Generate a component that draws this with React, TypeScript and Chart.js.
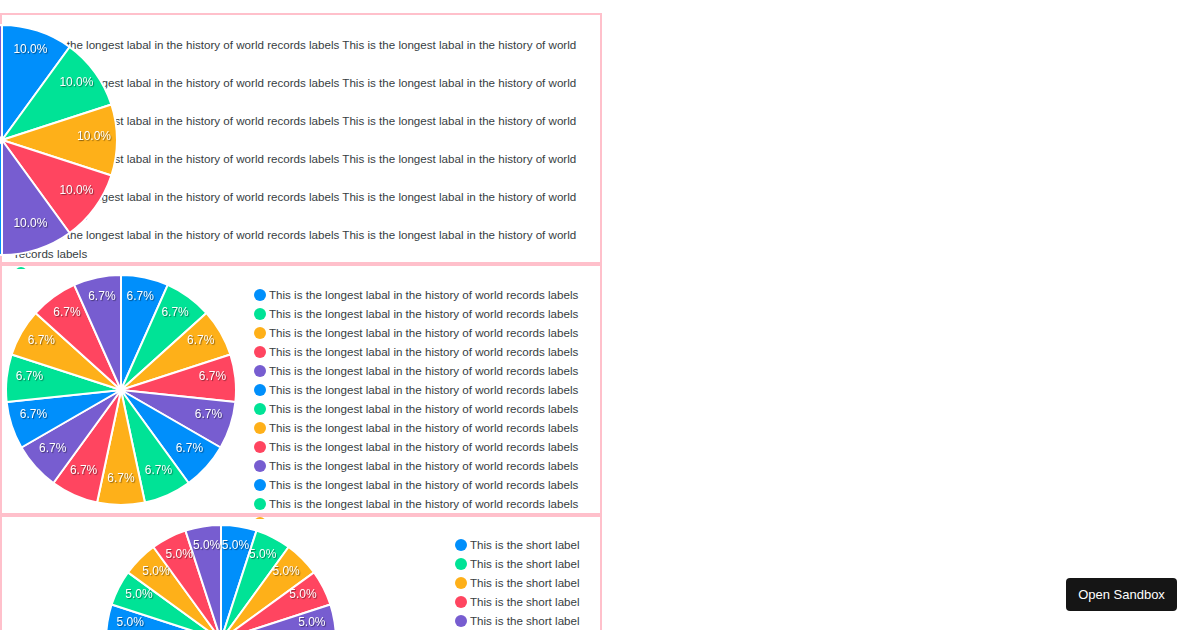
import { useEffect, useRef } from 'react';
import { Chart, PieController, ArcElement } from 'chart.js';

Chart.register(PieController, ArcElement);

const LONG = 'This is the longest labal in the history of world records labels';
const LONGER = 'This is the longest labal in the history of world records labels This is the longest labal in the history of world records labels';
const SHORT = 'This is the short label';

const LABELS_1 = [LONGER, LONGER, LONGER, LONGER, LONGER, LONGER, LONGER, LONGER, LONGER, LONGER];
const VALUES_1 = [10, 10, 10, 10, 10, 10, 10, 10, 10, 10];

const LABELS_2 = [LONG, LONG, LONG, LONG, LONG, LONG, LONG, LONG, LONG, LONG, LONG, LONG, LONG, LONG, LONG];
const VALUES_2 = [10, 10, 10, 10, 10, 10, 10, 10, 10, 10, 10, 10, 10, 10, 10];

const LABELS_3 = [SHORT, SHORT, SHORT, SHORT, SHORT, SHORT, SHORT, SHORT, SHORT, SHORT,
  SHORT, SHORT, SHORT, SHORT, SHORT, SHORT, SHORT, SHORT, SHORT, SHORT];
const VALUES_3 = [10, 10, 10, 10, 10, 10, 10, 10, 10, 10, 10, 10, 10, 10, 10, 10, 10, 10, 10, 10];

const PALETTE = ['#008FFB', '#00E396', '#FEB019', '#FF4560', '#775DD0'];
const FONT = '"Liberation Sans", Arial, Helvetica, sans-serif';
const SIZE = 232;

const percentLabels = {
  id: 'percentLabels',
  afterDatasetsDraw(chart: Chart) {
    const { ctx } = chart;
    const values = chart.data.datasets[0].data as number[];
    const total = values.reduce((a, b) => a + b, 0);
    const meta = chart.getDatasetMeta(0);
    ctx.save();
    ctx.font = `12px ${FONT}`;
    ctx.fillStyle = '#fff';
    ctx.textAlign = 'center';
    ctx.textBaseline = 'alphabetic';
    ctx.shadowColor = 'rgba(0,0,0,0.45)';
    ctx.shadowOffsetX = 1;
    ctx.shadowOffsetY = 1;
    ctx.shadowBlur = 1;
    meta.data.forEach((arc: any, i) => {
      const { x, y, startAngle, endAngle, outerRadius } = arc.getProps(['x', 'y', 'startAngle', 'endAngle', 'outerRadius'], true);
      const mid = (startAngle + endAngle) / 2;
      const r = outerRadius / 1.25;
      const txt = ((values[i] / total) * 100).toFixed(1) + '%';
      ctx.fillText(txt, x + Math.cos(mid) * r, y + Math.sin(mid) * r);
    });
    ctx.restore();
  },
};

function PieCanvas({ labels, values, left, top }: { labels: string[]; values: number[]; left: number; top: number }) {
  const ref = useRef<HTMLCanvasElement>(null);

  useEffect(() => {
    if (!ref.current) return;
    const chart = new Chart(ref.current, {
      type: 'pie',
      data: {
        labels,
        datasets: [{
          data: values,
          backgroundColor: values.map((_, i) => PALETTE[i % PALETTE.length]),
          borderColor: '#fff',
          borderWidth: 2,
          hoverBorderWidth: 2,
          hoverOffset: 0,
        }],
      },
      options: {
        responsive: false,
        animation: false,
        radius: 115,
        layout: { padding: 0 },
        events: [],
        plugins: { legend: { display: false }, tooltip: { enabled: false } },
      },
      plugins: [percentLabels],
    });
    return () => { chart.destroy(); };
  }, [labels, values]);

  return (
    <canvas
      ref={ref}
      width={SIZE}
      height={SIZE}
      style={{ position: 'absolute', left, top, width: SIZE, height: SIZE, zIndex: 3 }}
    />
  );
}

function Legend({ labels, left, top, width, height }: { labels: string[]; left: number; top: number; width: number; height: number }) {
  return (
    <div
      style={{
        position: 'absolute', left, top, width, height, overflow: 'hidden',
        fontSize: 11.6, lineHeight: '19px', color: '#373d3f', zIndex: 2,
      }}
    >
      {labels.map((l, i) => (
        <div key={i}>
          <span
            style={{
              display: 'inline-block', width: 12, height: 12, borderRadius: 6,
              background: PALETTE[i % PALETTE.length], marginRight: 3, verticalAlign: '-2px',
            }}
          />
          {l}
        </div>
      ))}
    </div>
  );
}

const boxStyle = (top: number, height: number): React.CSSProperties => ({
  position: 'absolute', left: 0, top, width: 602, height, boxSizing: 'border-box',
  border: '2px solid pink', zIndex: 1,
});

export default function App() {
  return (
    <div
      style={{
        position: 'fixed', left: 0, top: 0, width: 1200, height: 630, overflow: 'hidden',
        background: '#fff', fontFamily: FONT,
      }}
    >
      <div style={boxStyle(13, 251)} />
      <div style={boxStyle(264, 251)} />
      <div style={boxStyle(515, 250)} />

      <Legend labels={LABELS_1} left={15} top={35} width={568} height={234} />
      <PieCanvas labels={LABELS_1} values={VALUES_1} left={2 - SIZE / 2} top={140 - SIZE / 2} />

      <Legend labels={LABELS_2} left={254} top={284.5} width={340} height={234.5} />
      <PieCanvas labels={LABELS_2} values={VALUES_2} left={121 - SIZE / 2} top={390 - SIZE / 2} />

      <Legend labels={LABELS_3} left={455} top={534.5} width={140} height={400} />
      <PieCanvas labels={LABELS_3} values={VALUES_3} left={221 - SIZE / 2} top={640 - SIZE / 2} />

      <div
        style={{
          position: 'absolute', left: 1066, top: 578, width: 111, height: 33, borderRadius: 4,
          background: '#151515', color: '#fff', fontSize: 13, lineHeight: '33px', textAlign: 'center',
          fontFamily: FONT,
        }}
      >
        Open Sandbox
      </div>
    </div>
  );
}
